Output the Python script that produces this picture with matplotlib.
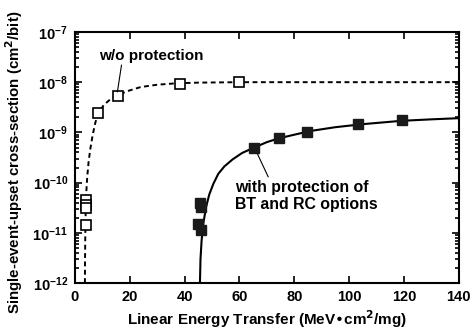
import matplotlib.pyplot as plt
import numpy as np

plt.rcParams['font.family'] = ['Liberation Sans', 'DejaVu Sans']
plt.rcParams['font.weight'] = 'bold'

# measured cross-sections, no protection
let_open = [3.9, 3.9, 3.9, 3.9, 8.6, 15.7, 38.2, 59.8]
sig_open = [4.5e-11, 3.6e-11, 3.1e-11, 1.45e-11, 2.4e-9, 5.3e-9, 9.2e-9, 1.0e-8]

# measured cross-sections, BT and RC protection
let_fill = [45.6, 45.9, 45.0, 45.9, 65.4, 74.3, 84.6, 103.4, 119.2]
sig_fill = [4.0e-11, 3.2e-11, 1.5e-11, 1.15e-11, 5.0e-10, 7.8e-10, 1.0e-9, 1.45e-9, 1.74e-9]

# fitted curves
fit_open_let = [3.65, 3.7, 3.8, 3.95, 4.2, 4.5, 5.0, 5.6, 6.5, 7.5, 8.6, 10.5,
                13.0, 15.7, 19.0, 24.0, 30.0, 37.0, 45.0, 60.0, 80.0, 110.0, 140.0]
fit_open_sig = [1e-12, 3e-12, 1e-11, 3e-11, 7e-11, 1.3e-10, 2.6e-10, 4.6e-10, 9e-10,
                1.6e-9, 2.4e-9, 3.5e-9, 4.6e-9, 5.5e-9, 6.6e-9, 8.0e-9, 8.9e-9,
                9.5e-9, 9.8e-9, 1.0e-8, 1.0e-8, 1.0e-8, 1.0e-8]
fit_fill_let = [45.6, 45.8, 46.2, 46.8, 47.8, 49.0, 50.5, 52.3, 54.5, 57.5, 61.0,
                65.4, 70.0, 74.3, 80.0, 86.0, 95.0, 105.0, 119.0, 130.0, 140.0]
fit_fill_sig = [1e-12, 3e-12, 7e-12, 1.5e-11, 3.2e-11, 5.8e-11, 9.5e-11, 1.5e-10,
                2.1e-10, 2.9e-10, 3.9e-10, 5.0e-10, 6.4e-10, 7.6e-10, 9.0e-10,
                1.07e-9, 1.27e-9, 1.46e-9, 1.7e-9, 1.82e-9, 1.92e-9]

fig = plt.figure(figsize=(4.74, 3.33), dpi=100)
ax = fig.add_axes([0.158, 0.150, 0.810, 0.754])

ax.semilogy(fit_open_let, fit_open_sig, color='black', lw=1.4, ls=(0, (2.5, 1.8)))
ax.semilogy(fit_fill_let, fit_fill_sig, color='black', lw=1.5)
ax.semilogy(let_open, sig_open, 's', ms=7, mfc='white', mec='black', mew=1.2)
ax.semilogy(let_fill, sig_fill, 's', ms=6.5, mfc='#1a1a1a', mec='#1a1a1a')

ax.set_xlim(0, 140)
ax.set_ylim(1e-12, 1e-7)
ax.set_xticks(np.arange(0, 141, 20))
ax.set_yticks([1e-12, 1e-11, 1e-10, 1e-9, 1e-8, 1e-7])

ax.tick_params(which='both', direction='in', top=True, right=True, labelsize=10.5, width=1.2)
ax.tick_params(which='major', length=5, pad=5)
ax.tick_params(which='minor', length=3)
for s in ax.spines.values():
    s.set_linewidth(1.5)

ax.set_xlabel('Linear Energy Transfer (MeV\u2022cm$^{\\mathbf{2}}$/mg)', fontsize=11, fontweight='bold', labelpad=3)
ax.set_ylabel('Single-event-upset cross-section (cm$^{\\mathbf{2}}$/bit)', fontsize=10.8, fontweight='bold')
ax.yaxis.set_label_coords(-0.13, 0.48)

# labels with short leader lines
ax.text(8.9, 3.3e-8, 'w/o protection', fontsize=11, fontweight='bold', ha='left', va='center')
ax.annotate('', xy=(15.5, 6.4e-9), xytext=(17.0, 2.2e-8),
            arrowprops=dict(arrowstyle='-', color='black', lw=0.8, shrinkA=0, shrinkB=0))
ax.text(58.3, 5.4e-11, 'with protection of\nBT and RC options', fontsize=11.4,
        fontweight='bold', ha='left', va='center', linespacing=1.15)
ax.annotate('', xy=(66.6, 3.7e-10), xytext=(70.5, 1.3e-10),
            arrowprops=dict(arrowstyle='-', color='black', lw=0.8, shrinkA=0, shrinkB=0))

fig.savefig('out.png', dpi=100)
